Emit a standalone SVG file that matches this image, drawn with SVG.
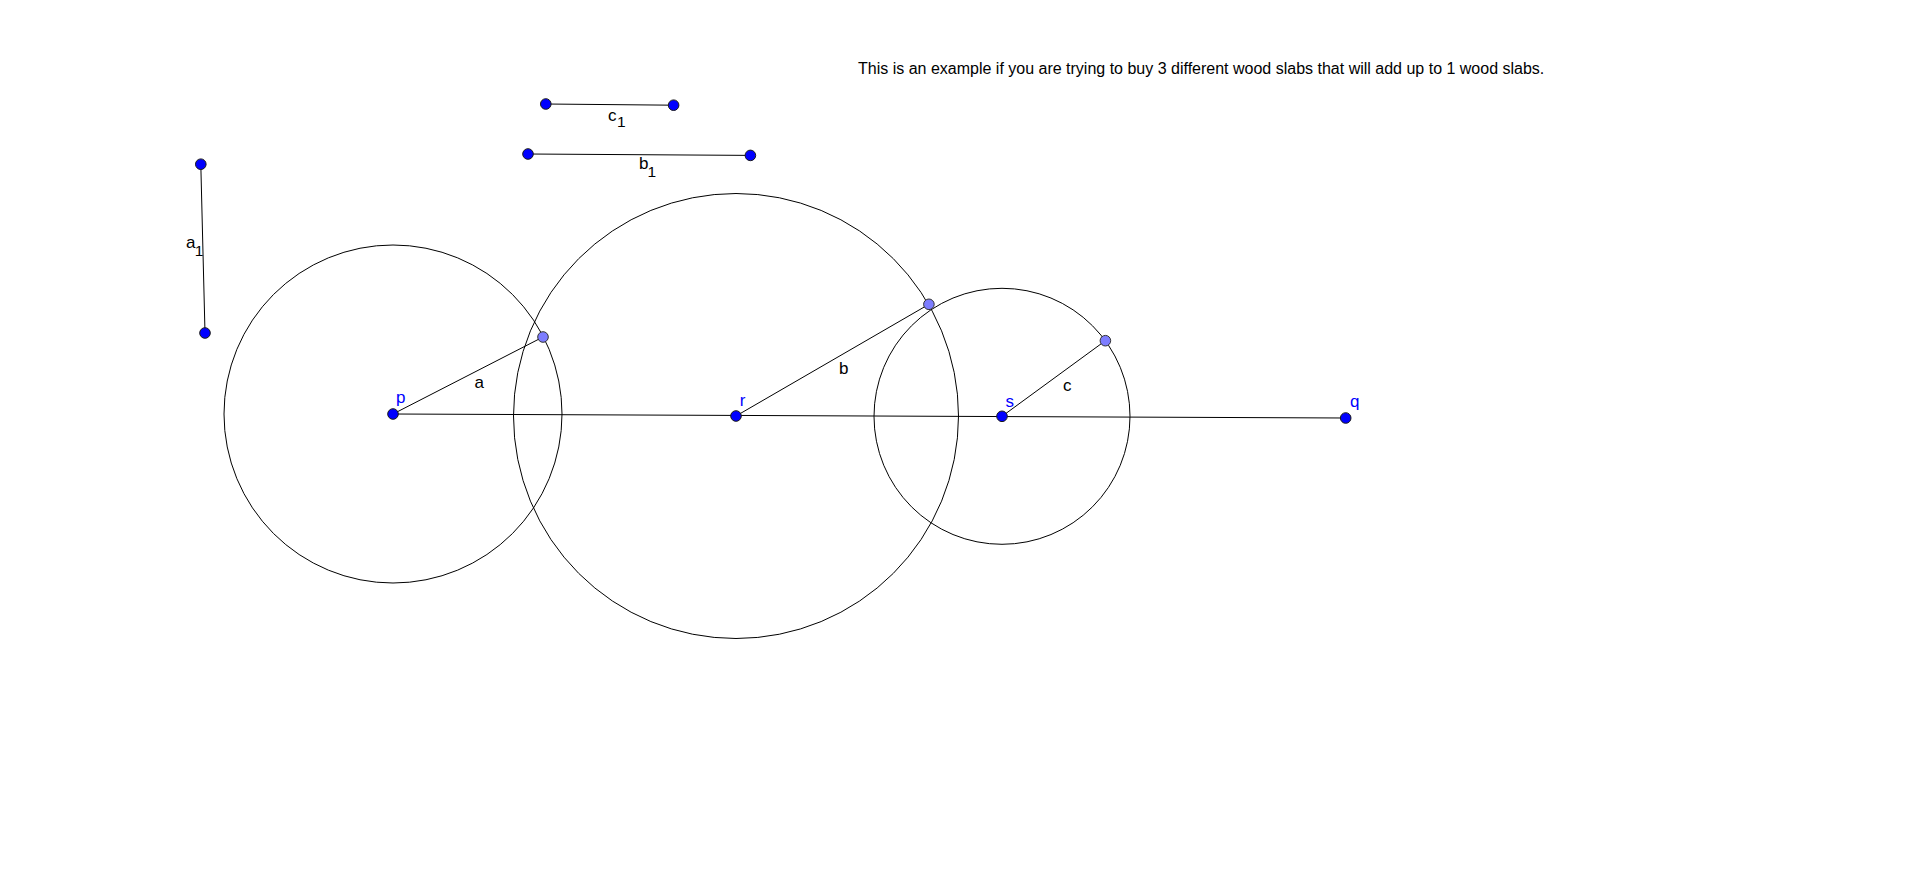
<svg xmlns="http://www.w3.org/2000/svg" width="1920" height="890" viewBox="0 0 1920 890">
<style>
.bg{fill:#fff}
.seg{stroke:#000;stroke-width:1;fill:none}
.circ{stroke:#000;stroke-width:1;fill:none}
.pt{fill:#0000ff;stroke:#1a1a1a;stroke-width:1}
.lpt{fill:#7d7dff;stroke:#333;stroke-width:1}
.ttl{font-family:"Liberation Sans",Arial,sans-serif;font-size:16px;fill:#000}
.lbl{font-family:"Liberation Sans",Arial,sans-serif;font-size:17px;fill:#000}
.sub{font-family:"Liberation Sans",Arial,sans-serif;font-size:15.5px;fill:#000}
.plbl{font-family:"Liberation Sans",Arial,sans-serif;font-size:17px;fill:#0000ff}
</style>
<rect class="bg" x="0" y="0" width="1920" height="890"/>
<g id="connectors">
<circle class="circ" cx="393" cy="414" r="169"/>
<circle class="circ" cx="736" cy="416" r="222.5"/>
<circle class="circ" cx="1002" cy="416.3" r="128"/>
<line class="seg" x1="393" y1="414" x2="1345.7" y2="418"/>
<line class="seg" x1="393" y1="414" x2="543" y2="337"/>
<line class="seg" x1="736" y1="416" x2="928.9" y2="304.3"/>
<line class="seg" x1="1002" y1="416.3" x2="1105.4" y2="340.7"/>
<line class="seg" x1="200.8" y1="164.2" x2="205" y2="333"/>
<line class="seg" x1="545.8" y1="104" x2="673.6" y2="105.2"/>
<line class="seg" x1="528" y1="154" x2="750.4" y2="155.4"/>
</g>
<g id="title"><text class="ttl" x="858" y="74">This is an example if you are trying to buy 3 different wood slabs that will add up to 1 wood slabs.</text></g>
<g id="seg-a1"><circle class="pt" cx="200.8" cy="164.2" r="5.3"/><circle class="pt" cx="205" cy="333" r="5.3"/><text class="lbl" x="186" y="248.4">a</text><text class="sub" x="194.8" y="255.5">1</text></g>
<g id="seg-c1"><circle class="pt" cx="545.8" cy="104" r="5.3"/><circle class="pt" cx="673.6" cy="105.2" r="5.3"/><text class="lbl" x="608" y="120.7">c</text><text class="sub" x="617" y="127.3">1</text></g>
<g id="seg-b1"><circle class="pt" cx="528" cy="154" r="5.3"/><circle class="pt" cx="750.4" cy="155.4" r="5.3"/><text class="lbl" x="639" y="169">b</text><text class="sub" x="647.5" y="176.5">1</text></g>
<g id="label-a"><text class="lbl" x="474.5" y="388.3">a</text></g>
<g id="label-b"><text class="lbl" x="839" y="373.5">b</text></g>
<g id="label-c"><text class="lbl" x="1063" y="390.7">c</text></g>
<g id="end-a"><circle class="lpt" cx="543" cy="337" r="5.3"/></g>
<g id="end-b"><circle class="lpt" cx="928.9" cy="304.3" r="5.3"/></g>
<g id="end-c"><circle class="lpt" cx="1105.4" cy="340.7" r="5.3"/></g>
<g id="point-p"><circle class="pt" cx="393" cy="414" r="5.3"/><text class="plbl" x="396" y="403.3">p</text></g>
<g id="point-r"><circle class="pt" cx="736" cy="416" r="5.3"/><text class="plbl" x="739.8" y="405.7">r</text></g>
<g id="point-s"><circle class="pt" cx="1002" cy="416.3" r="5.3"/><text class="plbl" x="1005.5" y="406.7">s</text></g>
<g id="point-q"><circle class="pt" cx="1345.7" cy="418" r="5.3"/><text class="plbl" x="1350" y="406.8">q</text></g>
</svg>
